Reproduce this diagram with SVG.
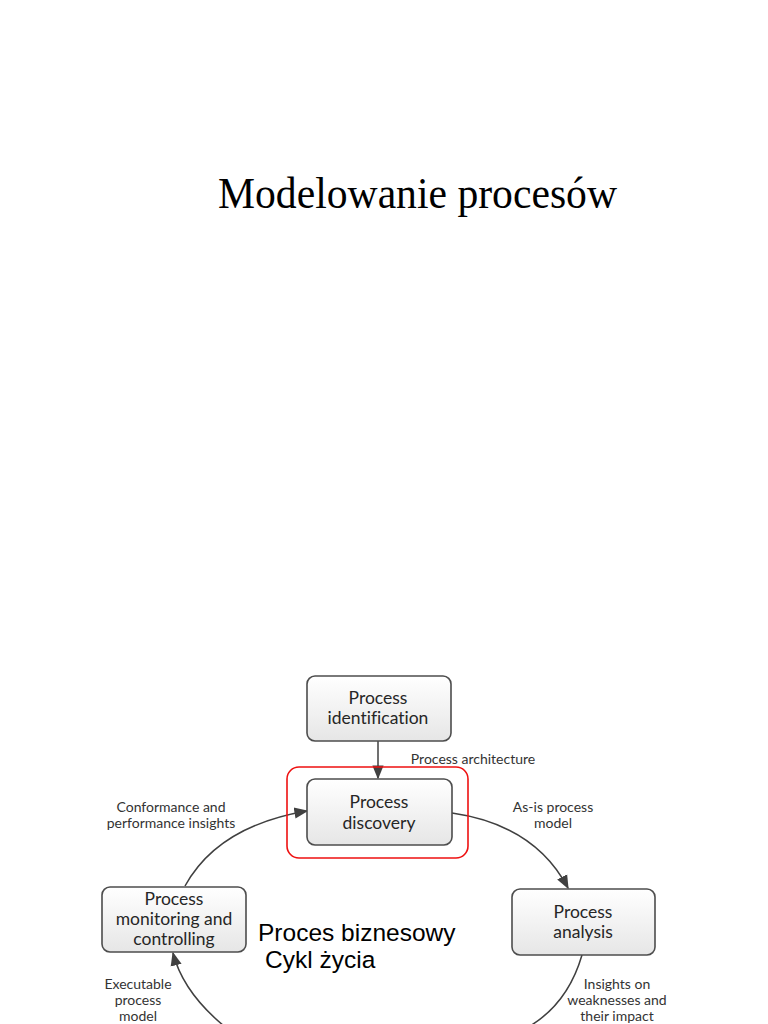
<svg xmlns="http://www.w3.org/2000/svg" width="768" height="1024" viewBox="0 0 768 1024">
<defs>
<linearGradient id="g" x1="0" y1="0" x2="0" y2="1">
<stop offset="0" stop-color="#ffffff"/>
<stop offset="1" stop-color="#e6e6e6"/>
</linearGradient>
<marker id="ahb" viewBox="0 0 10 10" refX="9" refY="5" markerWidth="14" markerHeight="14" markerUnits="userSpaceOnUse" orient="auto">
<path d="M0,1 L10,5 L0,9 z" fill="#404040"/>
</marker>
</defs>
<style>
.box{fill:url(#g);stroke:#4d4d4d;stroke-width:1.6}
.bt{font-family:Lato,"Open Sans","Liberation Sans",sans-serif;font-size:17.5px;fill:#262626;text-anchor:middle;font-variant-ligatures:none}
.lb{font-family:Lato,"Open Sans","Liberation Sans",sans-serif;font-size:14px;fill:#333;text-anchor:middle;font-variant-ligatures:none}
.ed{fill:none;stroke:#404040;stroke-width:1.5}
</style>
<rect width="768" height="1024" fill="#ffffff"/>
<text x="218" y="208" font-family="'Liberation Serif',serif" font-size="44" textLength="399" lengthAdjust="spacingAndGlyphs" fill="#000">Modelowanie procesów</text>

<g id="connectors">
<path class="ed" d="M378,741 L378,778" marker-end="url(#ahb)"/>
<path class="ed" d="M452,813 Q535,825 568,888" marker-end="url(#ahb)"/>
<path class="ed" d="M582,955 Q568,1003 530,1026"/>
<path class="ed" d="M224,1026 Q183,992 173,953" marker-end="url(#ahb)"/>
<path class="ed" d="M185,886 Q218,826 307,811" marker-end="url(#ahb)"/>
</g>

<g id="highlight">
<rect x="287" y="767" width="181" height="91" rx="12" fill="none" stroke="#ee1111" stroke-width="1.6"/>
</g>

<g id="n-identification">
<rect class="box" x="307" y="676" width="144" height="65" rx="8"/>
<text class="bt" x="378" y="704">Process</text>
<text class="bt" x="378" y="724">identification</text>
</g>
<g id="n-discovery">
<rect class="box" x="307" y="779" width="145" height="66" rx="8"/>
<text class="bt" x="379" y="808">Process</text>
<text class="bt" x="379" y="829">discovery</text>
</g>
<g id="n-monitoring">
<rect class="box" x="102" y="887" width="144" height="65" rx="8"/>
<text class="bt" x="174" y="905">Process</text>
<text class="bt" x="174" y="925">monitoring and</text>
<text class="bt" x="174" y="945">controlling</text>
</g>
<g id="n-analysis">
<rect class="box" x="512" y="889" width="143" height="66" rx="8"/>
<text class="bt" x="583" y="918">Process</text>
<text class="bt" x="583" y="938">analysis</text>
</g>

<g id="labels">
<text class="lb" x="473" y="764">Process architecture</text>
<text class="lb" x="171" y="812">Conformance and</text>
<text class="lb" x="171" y="828">performance insights</text>
<text class="lb" x="553" y="812">As-is process</text>
<text class="lb" x="553" y="828">model</text>
<text class="lb" x="138" y="989">Executable</text>
<text class="lb" x="138" y="1005">process</text>
<text class="lb" x="138" y="1021">model</text>
<text class="lb" x="617" y="989">Insights on</text>
<text class="lb" x="617" y="1005">weaknesses and</text>
<text class="lb" x="617" y="1021">their impact</text>
</g>

<g id="caption">
<text x="258" y="941" font-family="'Liberation Sans',Arial,sans-serif" font-size="24.5" fill="#000">Proces biznesowy</text>
<text x="265" y="968" font-family="'Liberation Sans',Arial,sans-serif" font-size="24.5" fill="#000">Cykl życia</text>
</g>
</svg>
